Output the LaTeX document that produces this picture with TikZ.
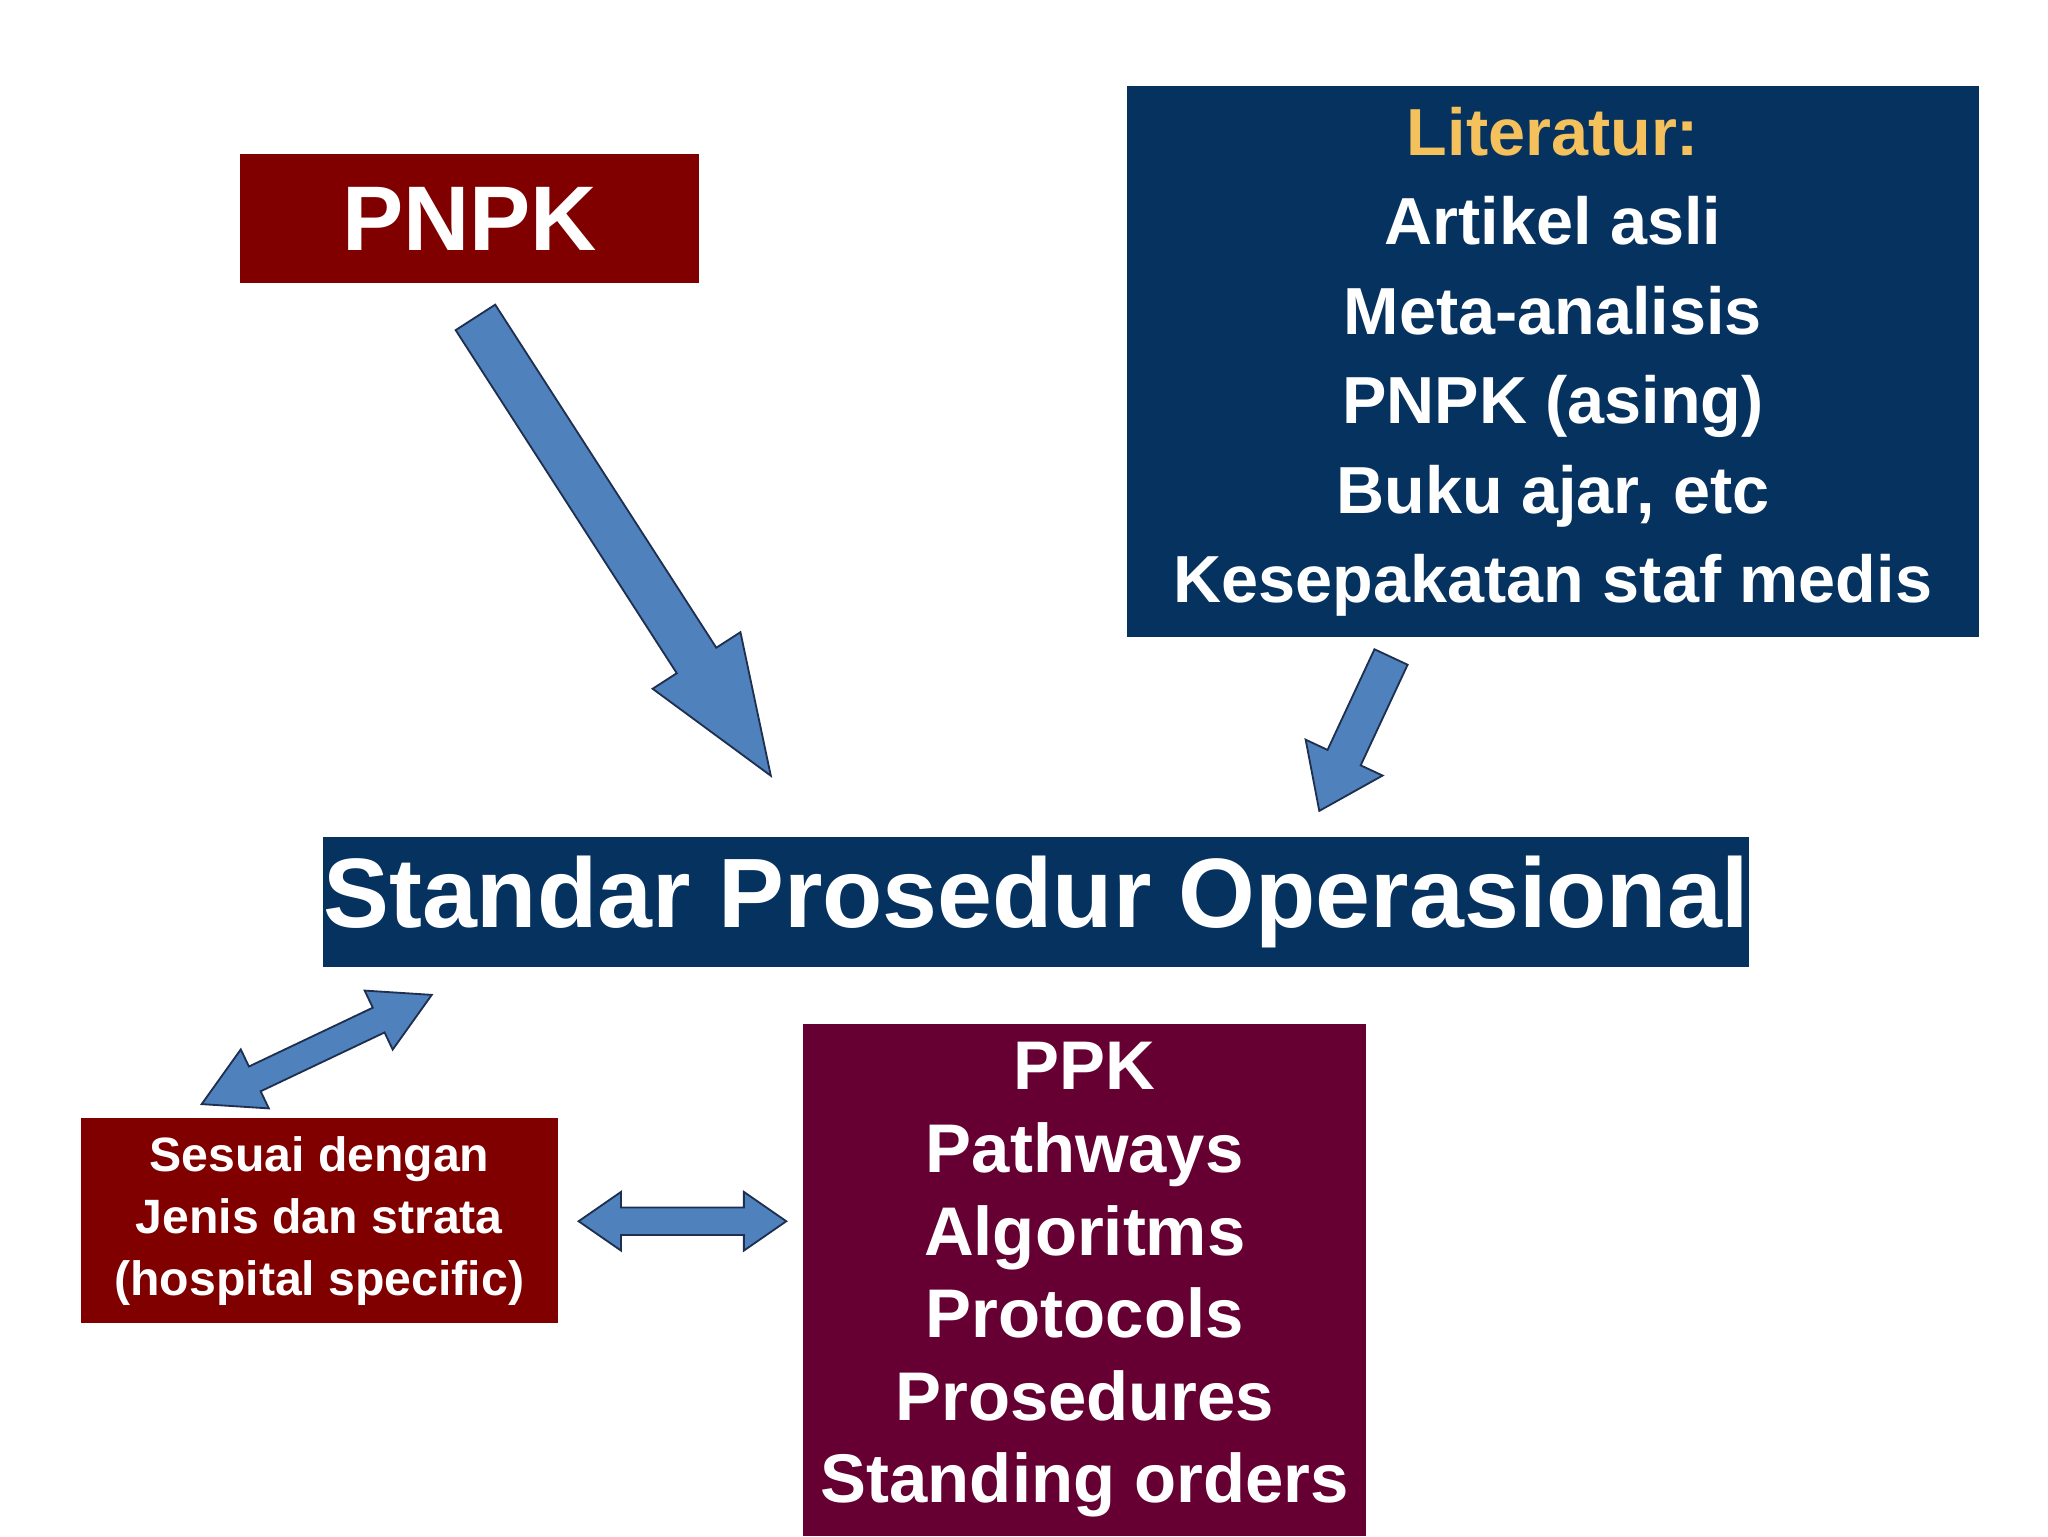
\documentclass[tikz,border=0pt]{standalone}
\usepackage{fontspec}
\setmainfont{Liberation Sans}
\usetikzlibrary{positioning}
\definecolor{pnpkred}{HTML}{800000}
\definecolor{navy}{HTML}{06325F}
\definecolor{plum}{HTML}{660033}
\definecolor{gold}{HTML}{F5C15C}
\definecolor{arrowblue}{HTML}{4F81BD}
\definecolor{arrowline}{HTML}{1F2F4F}

% block arrow: tail x, tail y, angle, length, shaft, head width, head length
\newcommand{\blockarrow}[7]{%
  \begin{scope}[shift={(#1,#2)},rotate=#3]
    \draw[fill=arrowblue,draw=arrowline,line width=0.8pt]
      (0,-#5/2) -- (#4-#7,-#5/2) -- (#4-#7,-#6/2) -- (#4,0)
      -- (#4-#7,#6/2) -- (#4-#7,#5/2) -- (0,#5/2) -- cycle;
  \end{scope}}
% double block arrow centred
\newcommand{\dblarrow}[7]{%
  \begin{scope}[shift={(#1,#2)},rotate=#3]
    \draw[fill=arrowblue,draw=arrowline,line width=0.8pt]
      (-#4/2+#7,-#5/2) -- (#4/2-#7,-#5/2) -- (#4/2-#7,-#6/2) -- (#4/2,0)
      -- (#4/2-#7,#6/2) -- (#4/2-#7,#5/2) -- (-#4/2+#7,#5/2)
      -- (-#4/2+#7,#6/2) -- (-#4/2,0) -- (-#4/2+#7,-#6/2) -- cycle;
  \end{scope}}

\begin{document}
\begin{tikzpicture}[
    box/.style={inner sep=0pt, font=\bfseries, text=white, align=center},
  ]
  \useasboundingbox (0,0) rectangle (31.36,-23.52);

  \node[box, fill=pnpkred, minimum width=7.02cm, minimum height=1.98cm,
        font=\fontsize{40}{44}\selectfont\bfseries] (pnpk) at (7.19,-3.35) {PNPK};

  \node[box, fill=navy, minimum width=13.04cm, minimum height=8.44cm,
        font=\fontsize{29}{39}\selectfont\bfseries] (lit) at (23.78,-5.54)
    {\textcolor{gold}{Literatur:}\\Artikel asli\\Meta-analisis\\PNPK (asing)\\Buku ajar, etc\\Kesepakatan staf medis};

  \node[box, fill=navy, minimum width=20.74cm, minimum height=1.98cm,
        font=\fontsize{43}{48}\selectfont\bfseries] (spo) at (15.87,-13.81) {Standar Prosedur Operasional};

  \node[box, fill=pnpkred, minimum width=7.3cm, minimum height=3.14cm,
        font=\fontsize{21}{27}\selectfont\bfseries] (strata) at (4.89,-18.69)
    {Sesuai dengan\\Jenis dan strata\\(hospital specific)};

  \node[box, fill=plum, minimum width=8.62cm, minimum height=7.84cm,
        font=\fontsize{30}{36}\selectfont\bfseries] (ppk) at (16.61,-19.6)
    {PPK\\Pathways\\Algoritms\\Protocols\\Prosedures\\Standing orders};

  % arrows
  \blockarrow{7.28}{-4.86}{-57.2}{8.35}{0.72}{1.6}{2.1}
  \blockarrow{21.3}{-10.06}{-115}{2.6}{0.56}{1.3}{0.9}
  \dblarrow{4.85}{-16.07}{25.4}{3.9}{0.42}{1.0}{0.9}
  \dblarrow{10.45}{-18.7}{0}{3.18}{0.42}{0.9}{0.65}
\end{tikzpicture}
\end{document}
